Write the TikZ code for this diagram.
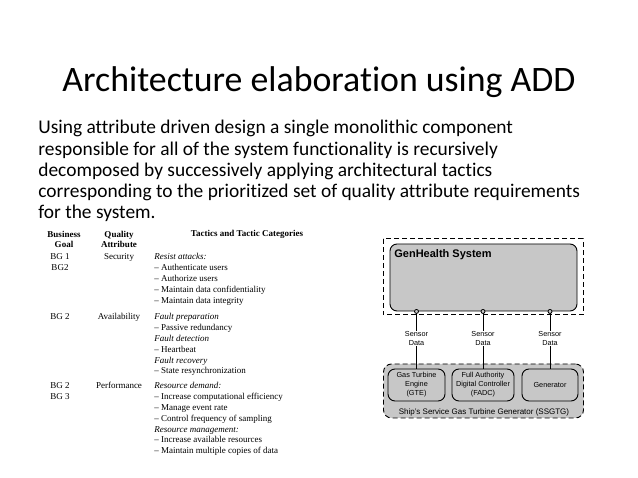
\documentclass[tikz,border=0pt]{standalone}
\usepackage{fontspec}
\setmainfont{Carlito}[Ligatures=NoCommon]
\newfontfamily\tabfont{Liberation Serif}[Ligatures=TeX]
\newfontfamily\diafont{Liberation Sans}
\usetikzlibrary{positioning}

\begin{document}
\begin{tikzpicture}[x=1pt, y=-1pt, thick,
  box/.style = {draw, rounded corners=7pt, fill=black!22, line width=0.9pt},
  part/.style = {box, minimum height=32pt, inner sep=0pt, align=center,
    font=\diafont\fontsize{7.3}{9}\selectfont},
  lbl/.style = {fill=white, inner sep=0.5pt, align=center,
    font=\diafont\fontsize{7.3}{9}\selectfont},
  port/.style = {draw, circle, fill=black!22, inner sep=0pt, minimum size=4pt, line width=0.8pt},
  tab/.style = {inner sep=0pt, font=\tabfont\fontsize{9}{10.9}\selectfont},
  head/.style = {tab, font=\tabfont\bfseries\fontsize{9}{10.9}\selectfont, align=center}]
\useasboundingbox (0,0) rectangle (638,478);

% title and text (base = last line)
\node[anchor=base, font=\fontsize{35.8}{40}\selectfont] (title) at (319,92) {Architecture elaboration using ADD};
\node[anchor=base west, align=left, inner sep=0pt, font=\fontsize{19.4}{21.3}\selectfont] (body) at (38,219)
  {Using attribute driven design a single monolithic component\\
   responsible for all of the system functionality is recursively\\
   decomposed by successively applying architectural tactics\\
   corresponding to the prioritized set of quality attribute requirements\\
   for the system.};

% table
\node[head, anchor=base] (goal) at (64,248) {Business\\Goal};
\node[head, anchor=base] (qa) at (119,248) {Quality\\Attribute};
\node[head, anchor=base] (tc) at (247,237) {Tactics and Tactic Categories};

\node[tab, anchor=base, align=center] (g1) at (60,270.4) {BG 1\\BG2};
\node[tab, anchor=base] (q1) at (119,259.5) {Security};
\node[tab, anchor=base west, align=left] (t1) at (154,303.1) {\textit{Resist attacks:}\\
  – Authenticate users\\ – Authorize users\\ – Maintain data confidentiality\\ – Maintain data integrity};

\node[tab, anchor=base, align=center] (g2) at (60,319.5) {BG 2};
\node[tab, anchor=base] (q2) at (119,319.5) {Availability};
\node[tab, anchor=base west, align=left] (t2) at (154,374) {\textit{Fault preparation}\\
  – Passive redundancy\\ \textit{Fault detection}\\ – Heartbeat\\ \textit{Fault recovery}\\ – State resynchronization};

\node[tab, anchor=base, align=center] (g3) at (60,399.4) {BG 2\\BG 3};
\node[tab, anchor=base] (q3) at (119,388.5) {Performance};
\node[tab, anchor=base west, align=left] (t3) at (154,453.9) {\textit{Resource demand:}\\
  – Increase computational efficiency\\ – Manage event rate\\ – Control frequency of sampling\\
  \textit{Resource management:}\\ – Increase available resources\\ – Maintain multiple copies of data};

% diagram
\draw[dashed, dash pattern=on 5pt off 3pt, line width=1pt] (383,239) rectangle (583,315);
\node[box, minimum width=187pt, minimum height=67pt] (gh) at (483.5,277.5) {};
\node[anchor=base west, inner sep=0pt, font=\diafont\bfseries\fontsize{11}{13}\selectfont] (ghl) at (394,258) {GenHealth System};

\node[box, dashed, dash pattern=on 5pt off 3pt, minimum width=200pt, minimum height=54pt, rounded corners=8pt] (ss) at (483.5,391) {};
\node[anchor=base, inner sep=0pt, font=\diafont\fontsize{8}{10}\selectfont] (ssl) at (484,415) {Ship’s Service Gas Turbine Generator (SSGTG)};

\node[part, minimum width=57pt] (gte) at (416.5,385) {Gas Turbine\\Engine\\(GTE)};
\node[part, minimum width=62pt] (fadc) at (483,385) {Full Authority\\Digital Controller\\(FADC)};
\node[part, minimum width=56pt] (gen) at (550,385) {Generator};

\foreach \n in {gte, fadc, gen} {
  \coordinate (p\n) at (gh.south -| \n.north);
  \draw[line width=0.9pt] (p\n) -- (\n.north);
  \node[port] at (p\n) {};
  \node[lbl] at (\n.north |- 0,338.5) {Sensor\\Data};
}
\end{tikzpicture}
\end{document}
